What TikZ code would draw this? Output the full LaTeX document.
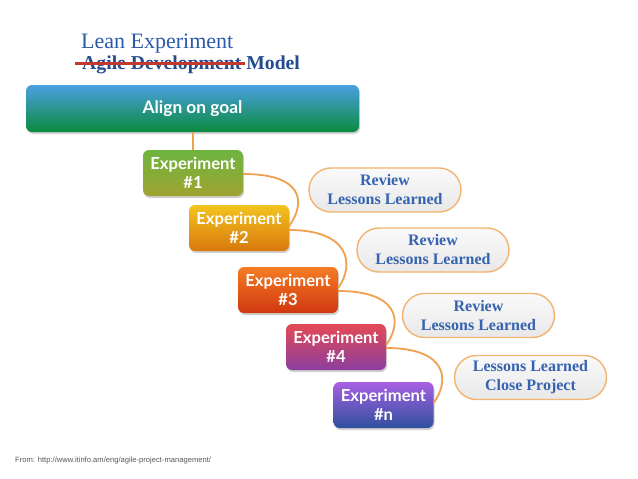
\documentclass[tikz,border=0pt]{standalone}
\usepackage{fontspec}
\setmainfont{Liberation Serif}
\newfontfamily\boxfont{Lato}
\newfontfamily\footfont{Liberation Sans}
\usetikzlibrary{shadows}
\definecolor{titleblue}{HTML}{2B5AA8}
\definecolor{revblue}{HTML}{3563B0}
\definecolor{connorange}{HTML}{F0A04E}
\definecolor{strikered}{HTML}{C23A2E}
\begin{document}
\begin{tikzpicture}[x=1pt,y=-1pt,
  expbox/.style={rounded corners=6pt, minimum width=100pt, minimum height=46pt, inner sep=0pt,
    align=center, text=white, font=\boxfont\bfseries\fontsize{16.6}{18.5}\selectfont,
    drop shadow={shadow xshift=1pt, shadow yshift=-2pt, opacity=.18, fill=black}},
  revbox/.style={rounded corners=22pt, minimum width=152pt, minimum height=44pt, inner sep=0pt,
    align=center, text=revblue, draw=connorange!80, line width=1.4pt,
    top color=gray!4, bottom color=gray!18,
    font=\bfseries\fontsize{16}{19}\selectfont},
  conn/.style={draw=connorange, line width=1.8pt}
]
\useasboundingbox[fill=white] (0,0) rectangle (638,479);

% title
\node[anchor=base west, inner sep=0pt, text=titleblue, font=\fontsize{22}{26}\selectfont] (t1) at (81,48) {Lean Experiment};
\node[anchor=base west, inner sep=0pt, text=titleblue!85!black, font=\bfseries\fontsize{19.7}{22}\selectfont] (t2) at (82,69) {Agile Development Model};
\draw[strikered, line width=2.6pt] (75,63.5) -- (245,63.5);

% align box
\node[expbox, minimum width=333pt, minimum height=47pt, top color={rgb,255:red,74;green,160;blue,224}, bottom color={rgb,255:red,10;green,138;blue,62},
  font=\boxfont\bfseries\fontsize{17.3}{19}\selectfont] (align) at (192.5,108.5) {Align on goal};

% experiments
\node[expbox, top color={rgb,255:red,109;green,181;blue,64}, bottom color={rgb,255:red,160;green,163;blue,48}] (e1) at (193,173) {Experiment\\\#1};
\node[expbox, top color={rgb,255:red,243;green,196;blue,30}, bottom color={rgb,255:red,216;green,120;blue,14}] (e2) at (239,228) {Experiment\\\#2};
\node[expbox, top color={rgb,255:red,245;green,124;blue,36}, bottom color={rgb,255:red,208;green,56;blue,16}] (e3) at (288,290) {Experiment\\\#3};
\node[expbox, top color={rgb,255:red,228;green,74;blue,84}, bottom color={rgb,255:red,140;green,62;blue,160}] (e4) at (336,347) {Experiment\\\#4};
\node[expbox, top color={rgb,255:red,168;green,96;blue,226}, bottom color={rgb,255:red,46;green,80;blue,158}] (en) at (383.5,405) {Experiment\\\#n};

% reviews
\node[revbox] (r1) at (385,190) {Review\\Lessons Learned};
\node[revbox] (r2) at (433,250) {Review\\Lessons Learned};
\node[revbox] (r3) at (478.5,315.5) {Review\\Lessons Learned};
\node[revbox] (r4) at (530.5,377.5) {Lessons Learned\\Close Project};

% connectors
\draw[conn] (e1.north |- align.south) -- (e1.north);
\draw[conn] ([yshift=-1pt]e1.east) .. controls +(60,0) and +(17,-24) .. ([yshift=2pt]e2.east);
\draw[conn] ([yshift=-2pt]e2.east) .. controls +(60,0) and +(17,-24) .. ([yshift=2pt]e3.east);
\draw[conn] ([yshift=-1pt]e3.east) .. controls +(60,0) and +(17,-24) .. ([yshift=2pt]e4.east);
\draw[conn] ([yshift=-1pt]e4.east) .. controls +(60,0) and +(17,-24) .. ([yshift=2pt]en.east);

% footer
\node[anchor=base west, inner sep=0pt, text=black!65, font=\footfont\fontsize{7.6}{9}\selectfont] (src) at (15,462) {From: http://www.itinfo.am/eng/agile-project-management/};
\end{tikzpicture}
\end{document}
